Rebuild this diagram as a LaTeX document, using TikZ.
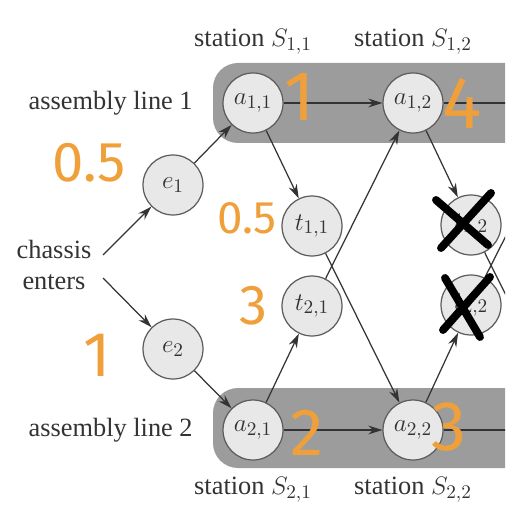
\documentclass[tikz,border=0pt]{standalone}
\usepackage{fontspec}
\setmainfont{Liberation Serif}
\newfontfamily\handfont{Fira Sans}
\usetikzlibrary{arrows.meta}
\definecolor{bandgray}{HTML}{9C9C9C}
\definecolor{nodegray}{HTML}{E8E8E8}
\definecolor{inkgray}{HTML}{333333}
\definecolor{handorange}{HTML}{EFA03A}

\begin{document}
\begin{tikzpicture}[x=0.02cm,y=-0.02cm,
  every node/.style={font=\fontsize{15}{18}\selectfont},
  station/.style={circle,draw=inkgray!80,fill=nodegray,line width=0.7pt,minimum size=1.2cm,inner sep=0pt,text=inkgray},
  lbl/.style={text=inkgray,inner sep=0pt},
  band/.style={fill=bandgray,rounded corners=0.5cm},
  conn/.style={draw=inkgray,line width=0.7pt,-{Stealth[length=8pt,width=5pt]}},
  hand/.style={text=handorange,inner sep=0pt},
  cross/.style={line width=4.5pt,line cap=round}]
\useasboundingbox (0,0) rectangle (505,513);
\clip (0,0) rectangle (505,513);

% the two lines
\fill[band] (213,63) rectangle (600,143);
\fill[band] (213,388) rectangle (600,468);

\node[station] (a11) at (253,103) {$a_{1,1}$};
\node[station] (a12) at (413,103) {$a_{1,2}$};
\node[station] (e1) at (173,185) {$e_1$};
\node[station] (e2) at (173,349) {$e_2$};
\node[station] (t11) at (312,226) {$t_{1,1}$};
\node[station] (t21) at (312,306) {$t_{2,1}$};
\node[station] (t12) at (471,225) {$t_{1,2}$};
\node[station] (t22) at (471,305) {$t_{2,2}$};
\node[station] (a21) at (253,430) {$a_{2,1}$};
\node[station] (a22) at (413,430) {$a_{2,2}$};
\coordinate (a13) at (573,103);
\coordinate (a23) at (573,430);

\node[lbl] (s11) at (253,42) {station $S_{1,1}$};
\node[lbl] (s12) at (413,42) {station $S_{1,2}$};
\node[lbl] (s21) at (253,490) {station $S_{2,1}$};
\node[lbl] (s22) at (413,490) {station $S_{2,2}$};
\node[lbl,anchor=east] (line1) at (193,103) {assembly line 1};
\node[lbl,anchor=east] (line2) at (193,430) {assembly line 2};
\node[lbl,align=center] (chassis) at (54,265) {chassis\\enters};
\coordinate (c1) at (103,255);
\coordinate (c2) at (103,278);

\draw[conn] (c1) -- (e1);
\draw[conn] (c2) -- (e2);
\draw[conn] (e1) -- (a11);
\draw[conn] (e2) -- (a21);
\draw[conn] (a11) -- (a12);
\draw[conn] (a21) -- (a22);
\draw[conn] (a11) -- (t11);
\draw[conn] (a21) -- (t21);
\draw[conn] (t11) -- (a22);
\draw[conn] (t21) -- (a12);
\draw[conn] (a12) -- (t12);
\draw[conn] (a22) -- (t22);
\draw[conn] (a12) -- (a13);
\draw[conn] (a22) -- (a23);
\draw[conn] (t12) -- (a23);
\draw[conn] (t22) -- (a13);

% handwritten marks
\node[hand,font=\handfont\fontsize{32}{32}\selectfont] (w1) at (89,163) {0.5};
\node[hand,font=\handfont\fontsize{40}{40}\selectfont] (w2) at (300,97) {1};
\node[hand,font=\handfont\fontsize{42}{42}\selectfont] (w3) at (462,103) {4};
\node[hand,font=\handfont\fontsize{26}{26}\selectfont] (w4) at (247,218) {0.5};
\node[hand,font=\handfont\fontsize{32}{32}\selectfont] (w5) at (254,306) {3};
\node[hand,font=\handfont\fontsize{36}{36}\selectfont] (w6) at (97,355) {1};
\node[hand,font=\handfont\fontsize{38}{38}\selectfont] (w7) at (307,433) {2};
\node[hand,font=\handfont\fontsize{40}{40}\selectfont] (w8) at (449,427) {3};

\draw[cross] ([shift={(-35,-25)}]t12.center) -- ([shift={(17,20)}]t12.center);
\draw[cross] ([shift={(20,-32)}]t12.center) -- ([shift={(-30,23)}]t12.center);
\draw[cross] ([shift={(-26,-27)}]t22.center) -- ([shift={(9,32)}]t22.center);
\draw[cross] ([shift={(19,-28)}]t22.center) -- ([shift={(-28,25)}]t22.center);
\end{tikzpicture}
\end{document}
